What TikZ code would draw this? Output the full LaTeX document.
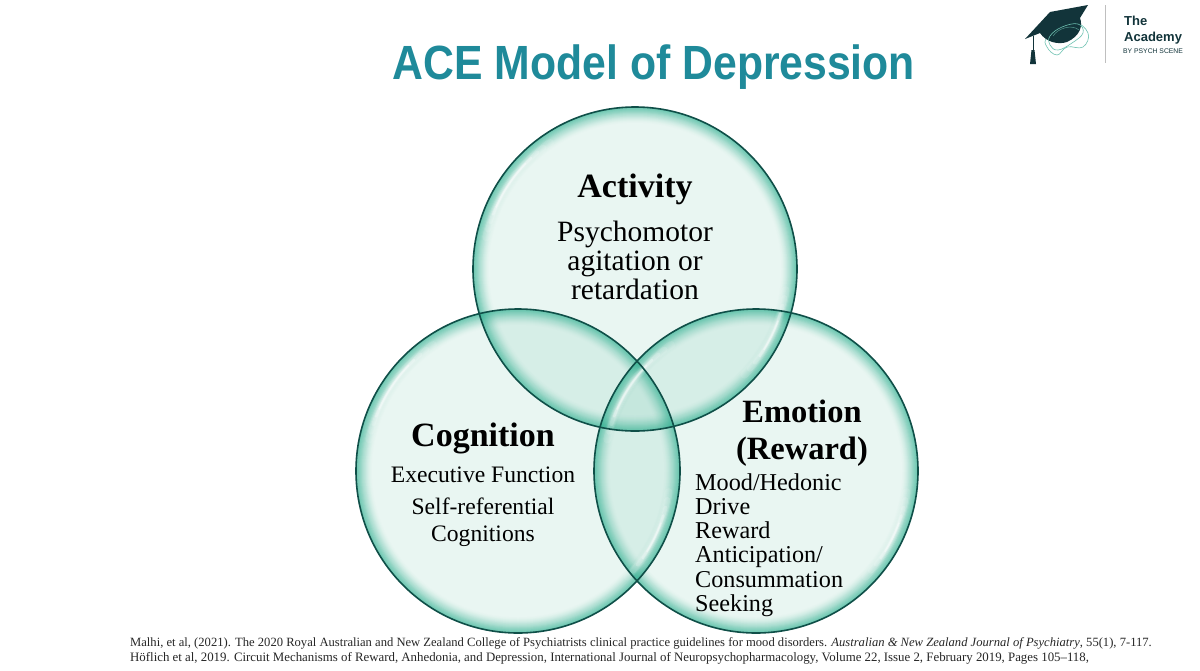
\documentclass[tikz,border=0pt]{standalone}
\usepackage{fontspec}
\setmainfont{Liberation Serif}
\newfontfamily\sansf{Liberation Sans}
\definecolor{tealtitle}{HTML}{1F8A9A}
\definecolor{rimc}{HTML}{0F4F48}
\definecolor{glowc}{HTML}{35B898}
\definecolor{basec}{HTML}{4FB89C}
\definecolor{logoc}{HTML}{12343A}
\definecolor{swirl}{HTML}{6FC2B2}
\tikzset{
  headtxt/.style={font=\fontsize{34}{40}\selectfont\bfseries, align=center, text=black},
  bodytxt/.style={font=\fontsize{29.5}{29}\selectfont, align=center, text=black},
  smalltxt/.style={font=\fontsize{23.6}{27}\selectfont, align=center, text=black},
  reftxt/.style={font=\fontsize{12.85}{15}\selectfont, anchor=west, text=black!85, inner sep=0pt},
}
\newcommand{\vennc}[2]{%
  \fill[basec, fill opacity=.12] (#1,#2) circle (162);
  \foreach \i in {1,...,16}{
    \pgfmathsetmacro{\op}{0.0075*(17-\i)}
    \fill[glowc, fill opacity=\op, even odd rule] (#1,#2) circle (162) (#1,#2) circle ({162-\i});
  }
}
% soft white highlight: stacked arcs, angles measured in the flipped y axis
\newcommand{\vennh}[4]{%
  \foreach \w/\o/\d in {8/.10/0,6/.14/3,4/.2/6,2.5/.3/9,1.5/.4/12}{
    \pgfmathsetmacro{\sa}{#3+\d}
    \pgfmathsetmacro{\ea}{#4-\d}
    \draw[white, draw opacity=\o, line width=\w, line cap=round] ({#1+152*cos(\sa)},{#2+152*sin(\sa)}) arc[start angle=\sa, end angle=\ea, radius=152];
  }
}
\begin{document}
\begin{tikzpicture}[x=1pt,y=-1pt]
\useasboundingbox (0,0) rectangle (1200,670);
\fill[white] (0,0) rectangle (1200,670);
% circles
\vennc{635}{269}
\vennc{518}{471}
\vennc{756}{471}
\vennh{635}{269}{192}{236}
\vennh{518}{471}{192}{236}
\vennh{756}{471}{192}{236}
\vennh{635}{269}{8}{44}
\vennh{518}{471}{8}{44}
\vennh{756}{471}{8}{44}
\foreach \cx/\cy in {635/269,518/471,756/471}{
  \draw[rimc, line width=1.6] (\cx,\cy) circle (162);
}
% title
\node[font=\sansf\fontsize{48}{50}\selectfont\bfseries, text=tealtitle, inner sep=0pt, xscale=.89] (title) at (654,67) {ACE Model of Depression};
% circle text
\node[headtxt] (act) at (635,189) {Activity};
\node[bodytxt] (actb) at (635,260) {Psychomotor\\agitation or\\retardation};
\node[headtxt] (cog) at (483,438) {Cognition};
\node[smalltxt] (cogb) at (483,507) {Executive Function\\[5pt]Self-referential\\Cognitions};
\node[headtxt, font=\fontsize{32.5}{37}\selectfont\bfseries] (emo) at (802,433) {Emotion\\(Reward)};
\node[smalltxt, align=left, anchor=north west, inner sep=0pt, font=\fontsize{24.2}{24.3}\selectfont] (emob) at (695,473) {Mood/Hedonic\\Drive\\Reward\\Anticipation/\\Consummation\\Seeking};
% references
\node[reftxt, font=\fontsize{12.6}{15}\selectfont] (ref1) at (130,643) {Malhi, et al, (2021). The 2020 Royal Australian and New Zealand College of Psychiatrists clinical practice guidelines for mood disorders. \textit{Australian \& New Zealand Journal of Psychiatry}, 55(1), 7-117.};
\node[reftxt] (ref2) at (130,658) {Höflich et al, 2019. Circuit Mechanisms of Reward, Anhedonia, and Depression, International Journal of Neuropsychopharmacology, Volume 22, Issue 2, February 2019, Pages 105–118,};
% logo
\draw[swirl, line width=.6] plot[smooth cycle, tension=.7] coordinates {(1048,37) (1073,23) (1088,33) (1083,47) (1067,47) (1057,55) (1047,47)};
\fill[logoc] (1025,39) -- (1050,12) -- (1088,5) -- (1080,18) .. controls (1083,26) and (1080,36) .. (1067,42) .. controls (1058,45) and (1046,42) .. (1040,33) -- cycle;
\draw[swirl, line width=.6] plot[smooth cycle, tension=.7] coordinates {(1050,36) (1062,27) (1078,24) (1083,33) (1072,43) (1058,50) (1050,45)};
\draw[swirl!70!logoc, line width=.5] (1053,36) .. controls (1058,28) and (1072,24) .. (1079,30);
\draw[logoc, line width=.8] (1033,36) -- (1033,50);
\fill[logoc] (1031.5,50) -- (1034.5,50) -- (1036,64) -- (1030,64) -- cycle;
\draw[black!25, line width=.7] (1105.5,5) -- (1105.5,63);
\node[font=\sansf\fontsize{13}{16}\selectfont\bfseries, text=logoc, align=left, anchor=north west, inner sep=0pt] (logo) at (1124,16) {The\\Academy};
\node[font=\sansf\fontsize{6.8}{9}\selectfont, text=logoc, anchor=west, inner sep=0pt] (logo2) at (1123,51) {BY PSYCH SCENE};
\end{tikzpicture}
\end{document}
